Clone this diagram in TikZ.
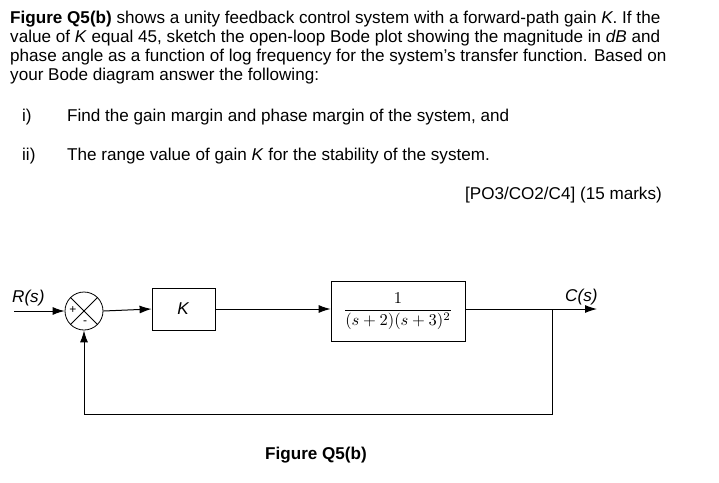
\documentclass[tikz,border=0pt]{standalone}
\usepackage{fontspec}
\setmainfont{Liberation Sans}
\usetikzlibrary{arrows.meta}
\begin{document}
\begin{tikzpicture}[x=1pt,y=-1pt,
  txt/.style={anchor=base west,inner sep=0pt,font=\fontsize{17.1}{19}\selectfont},
  blk/.style={draw,line width=0.8pt,minimum width=#1,inner sep=0pt},
  sig/.style={line width=1pt,-{Latex[length=12pt,width=8pt]}},
  ln/.style={line width=1pt}]
\useasboundingbox (0,0) rectangle (719,482);
\node[txt] (l1) at (10,23) {\textbf{Figure Q5(b)} shows a unity feedback control system with a forward-path gain \textit{K}. If the};
\node[txt] (l2) at (10,42) {value of \textit{K} equal 45, sketch the open-loop Bode plot showing the magnitude in \textit{dB} and};
\node[txt] (l3) at (10,61) {phase angle as a function of log frequency for the system's transfer function. Based on};
\node[txt] (l4) at (10,80) {your Bode diagram answer the following:};
\node[txt] (i1) at (22,121) {i)};
\node[txt] (i1t) at (67,121) {Find the gain margin and phase margin of the system, and};
\node[txt] (i2) at (22,160) {ii)};
\node[txt] (i2t) at (67,160) {The range value of gain \textit{K} for the stability of the system.};
\node[txt,anchor=base east] (mk) at (662,199) {[PO3/CO2/C4] (15 marks)};
% diagram
\coordinate (in) at (14,311);
\node[draw,circle,line width=0.8pt,minimum size=38pt,inner sep=0pt] (sum) at (84,311) {};
\draw[line width=0.8pt] (sum.north west)--(sum.south east) (sum.north east)--(sum.south west);
\node[font=\fontsize{12}{12}\selectfont,inner sep=0pt] at (73,310) {+};
\node[font=\fontsize{12}{12}\selectfont,inner sep=0pt] at (85,323) {-};
\node[txt] (R) at (12,302) {\textit{R(s)}};
\node[blk=63pt,minimum height=42pt,font=\fontsize{17.1}{19}\selectfont] (K) at (183.5,309) {\textit{K}};
\node[blk=134pt,minimum height=60pt] (G) at (398,311) {\scalebox{1.65}{$\displaystyle\frac{1}{(s+2)(s+3)^2}$}};
\coordinate (out) at (597,309);
\coordinate (br) at (552,309);
\coordinate (bb) at (552,414);
\coordinate (bl) at (84,414);
\node[txt] (C) at (565,301) {\textit{C(s)}};
\draw[sig] (in) -- (sum.west);
\draw[sig] (sum.east) -- (K.west);
\draw[sig] (K.east) -- (G.west|-K.east);
\draw[sig] (G.east|-out) -- (out);
\draw[ln] (br) -- (bb) -- (bl);
\draw[sig] (bl) -- (sum.south);
\node[txt,anchor=base,font=\bfseries\fontsize{17.1}{19}\selectfont] (cap) at (316,459) {Figure Q5(b)};
\end{tikzpicture}
\end{document}
